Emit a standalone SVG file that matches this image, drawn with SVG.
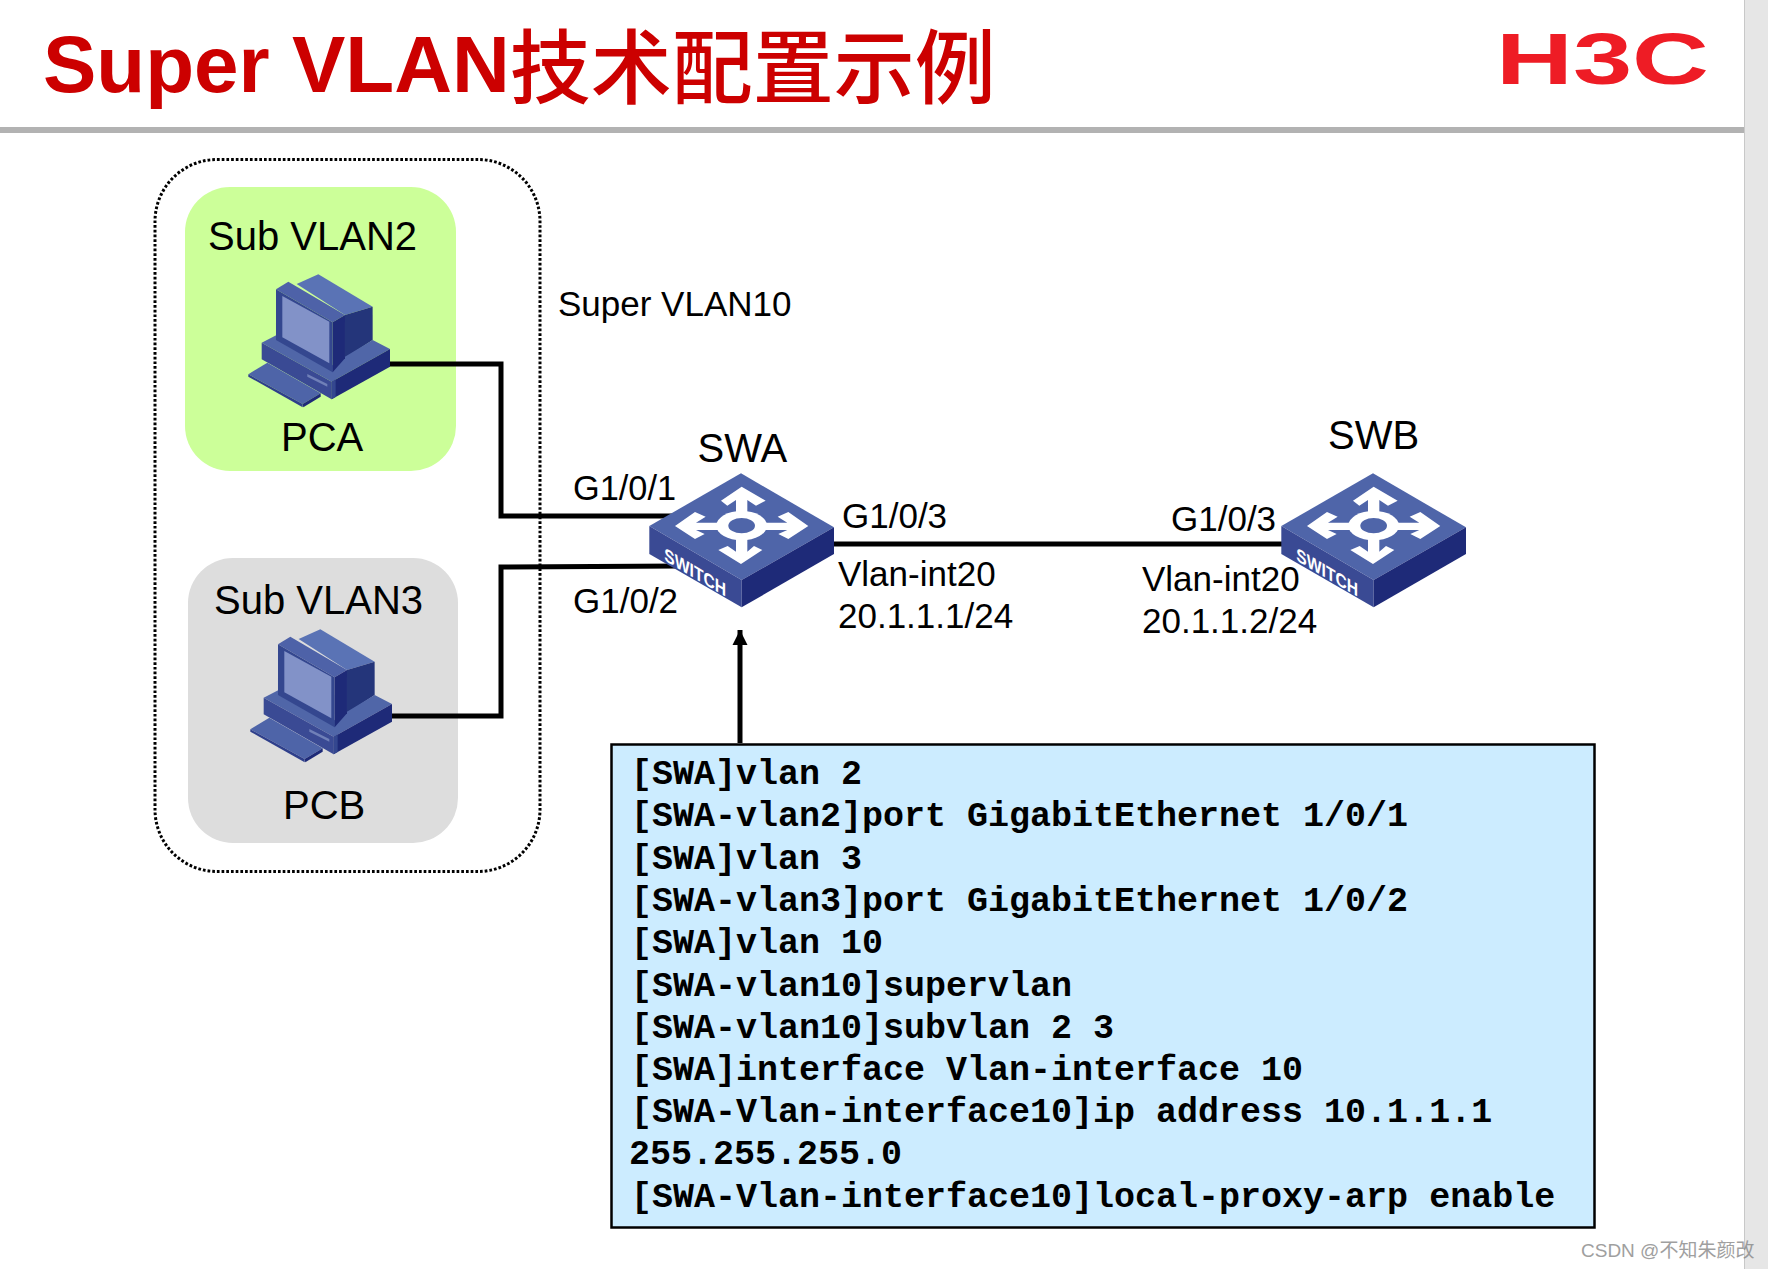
<svg xmlns="http://www.w3.org/2000/svg" xmlns:xlink="http://www.w3.org/1999/xlink" width="1768" height="1269" viewBox="0 0 1768 1269">
<style>
text{font-family:"Liberation Sans","Noto Sans CJK SC",sans-serif;fill:#000}
.l40{font-size:40px}.l35{font-size:35px}
.code{font-family:"Liberation Mono","Courier New",monospace;font-weight:bold;font-size:35px}
.wire{fill:none;stroke:#000;stroke-width:5}
</style>
<defs>
<g id="sw">
<polygon points="58,228 333,70 612,232 335,390" fill="#4F65A9"/>
<polygon points="58,228 335,390 335,472 58,312" fill="#3A4A94"/>
<polygon points="335,390 612,232 612,312 335,472" fill="#1E2A78"/>
<path d="M335,110L407,152L378,167L352,150V195H318V150L292,167L273,152ZM535,228L475,267L445,252L472,240H405V218H472L443,200L475,186ZM135,228L195,186L227,200L198,218H265V240H198L224,252L195,267ZM333,342L265,300L293,288L318,305V260H352V305L372,288L397,300Z" fill="#fff"/>
<ellipse cx="335" cy="227" rx="76" ry="44" fill="#fff"/>
<ellipse cx="335" cy="227" rx="40" ry="23" fill="#4F65A9"/>
<text transform="matrix(.84,.5,0,1,103,331)" font-size="56" font-weight="bold" style="fill:#fff">SWITCH</text>
</g>
<g id="pc">
<polygon points="200,72 265,43 428,140 345,165" fill="#5A73B5"/>
<polygon points="345,165 428,140 428,240 345,295" fill="#24357A"/>
<polygon points="95,248 140,225 300,320 345,290 428,240 480,267 305,365" fill="#5066A8"/>
<polygon points="95,248 305,365 305,418 95,298" fill="#3A4A94"/>
<polygon points="305,365 480,267 480,320 305,418" fill="#1E2A78"/>
<polygon points="305,365 317,358 317,411 305,418" fill="#34478F"/>
<polygon points="232,342 292,372 292,380 232,350" fill="#7080B8"/>
<polygon points="55,343 112,308 272,400 218,432" fill="#4E64A8"/>
<polygon points="55,343 218,432 218,442 55,350" fill="#2E3F8B"/>
<polygon points="218,432 272,400 272,410 220,442" fill="#1E2A78"/>
<polygon points="138,88 175,65 345,165 308,187" fill="#4E62A8"/>
<polygon points="138,88 308,187 308,337 138,240" fill="#34478F"/>
<polygon points="308,187 345,165 345,295 308,337" fill="#1E2A78"/>
<polygon points="157,108 298,185 298,310 157,232" fill="#8292C8"/>
</g>
<marker id="ah" markerUnits="userSpaceOnUse" markerWidth="16" markerHeight="16" refX="15" refY="8" orient="auto"><path d="M0,0.5L15,8L0,15.5Z" fill="#000"/></marker>
</defs>
<rect width="1768" height="1269" fill="#fff"/>
<g id="chrome">
<rect x="1745" y="0" width="23" height="1269" fill="#E6E6E6"/>
<rect x="1744" y="0" width="1" height="1269" fill="#C8C8C8"/>
<rect x="0" y="127" width="1744" height="6" fill="#B2B2B2"/>
</g>
<g id="title">
<text x="43" y="92" font-size="80" font-weight="bold" style="fill:#CC0000">Super VLAN<tspan font-family="Noto Sans CJK SC" font-weight="500" font-size="81" dy="5">技术配置示例</tspan></text>
</g>
<g id="logo"><text x="1496" y="84" font-size="73" font-weight="bold" textLength="213" lengthAdjust="spacingAndGlyphs" style="fill:#EE1C25">H3C</text></g>
<g id="super-vlan10">
<rect x="155" y="159.500" width="385" height="712" rx="62" ry="62" fill="none" stroke="#000" stroke-width="3" stroke-dasharray="2.700 2"/>
<text class="l35" x="558" y="316">Super VLAN10</text>
</g>
<g id="sub-vlan2">
<rect x="185" y="187" width="271" height="284" rx="45" ry="45" fill="#CCFF99"/>
<text class="l40" x="208" y="250">Sub VLAN2</text>
</g>
<g id="sub-vlan3">
<rect x="188" y="558" width="270" height="285" rx="45" ry="45" fill="#DDDDDD"/>
<text class="l40" x="214" y="614">Sub VLAN3</text>
</g>
<g id="connectors">
<path class="wire" d="M389,364H501V516H680"/>
<path class="wire" d="M391,716H501V567L680,566"/>
<path class="wire" d="M825,544H1300"/>
<path class="wire" d="M740,743V630" marker-end="url(#ah)"/>
</g>
<g id="pca">
<use xlink:href="#pc" href="#pc" transform="translate(230,260) scale(.3333)"/>
<text class="l40" x="281" y="451">PCA</text>
</g>
<g id="pcb">
<use xlink:href="#pc" href="#pc" transform="translate(232,615) scale(.3333)"/>
<text class="l40" x="283" y="819">PCB</text>
</g>
<g id="swa">
<use xlink:href="#sw" href="#sw" transform="translate(630,450) scale(.3333)"/>
<text class="l40" x="697.500" y="462">SWA</text>
</g>
<g id="swb">
<use xlink:href="#sw" href="#sw" transform="translate(1262,450) scale(.3333)"/>
<text class="l40" x="1328" y="449">SWB</text>
</g>
<g id="port-labels">
<text class="l35" x="573" y="500" textLength="103" lengthAdjust="spacingAndGlyphs">G1/0/1</text>
<text class="l35" x="573" y="613">G1/0/2</text>
<text class="l35" x="842" y="528">G1/0/3</text>
<text class="l35" x="1171" y="531">G1/0/3</text>
<text class="l35" x="838" y="586">Vlan-int20</text>
<text class="l35" x="838" y="628">20.1.1.1/24</text>
<text class="l35" x="1142" y="591">Vlan-int20</text>
<text class="l35" x="1142" y="633">20.1.1.2/24</text>
</g>
<g id="config">
<rect x="611.500" y="744.500" width="983" height="483" fill="#CCECFF" stroke="#000" stroke-width="2.500"/>
<text class="code" x="631" y="784">[SWA]vlan 2</text>
<text class="code" x="631" y="826">[SWA-vlan2]port GigabitEthernet 1/0/1</text>
<text class="code" x="631" y="869">[SWA]vlan 3</text>
<text class="code" x="631" y="911">[SWA-vlan3]port GigabitEthernet 1/0/2</text>
<text class="code" x="631" y="953">[SWA]vlan 10</text>
<text class="code" x="631" y="996">[SWA-vlan10]supervlan</text>
<text class="code" x="631" y="1038">[SWA-vlan10]subvlan 2 3</text>
<text class="code" x="631" y="1080">[SWA]interface Vlan-interface 10</text>
<text class="code" x="631" y="1122">[SWA-Vlan-interface10]ip address 10.1.1.1</text>
<text class="code" x="629" y="1164">255.255.255.0</text>
<text class="code" x="631" y="1207">[SWA-Vlan-interface10]local-proxy-arp enable</text>
</g>
<text id="watermark" x="1581" y="1257" font-size="19" style="fill:#888;opacity:.8">CSDN @不知朱颜改</text>
</svg>
